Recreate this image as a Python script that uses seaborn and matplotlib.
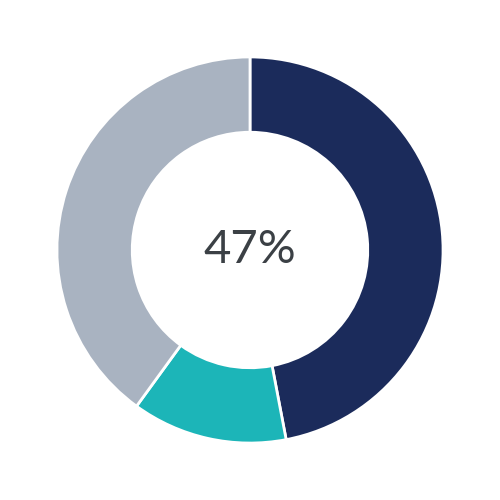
import matplotlib
matplotlib.use("Agg")
import matplotlib.pyplot as plt
import seaborn as sns

labels = ["Segment A", "Segment B", "Segment C"]
values = [47, 13, 40]
colors = ["#1b2b5b", "#1cb5b8", "#a9b3c1"]
center_label = "47%"

sns.set_theme(style="white")
plt.rcParams['font.family'] = ['Lato', 'DejaVu Sans']

fig = plt.figure(figsize=(5, 5), dpi=100)
ax = fig.add_axes([0, 0, 1, 1])
ax.pie(values, colors=colors, startangle=90, counterclock=False, radius=1,
       wedgeprops=dict(width=0.39, edgecolor="white", linewidth=2))
ax.text(0, 0.0, center_label, ha="center", va="center", fontsize=34,
        color="#3b4045", fontweight="normal")
lim = 1.295
ax.set_xlim(-lim, lim)
ax.set_ylim(-lim, lim)
ax.set_aspect("equal")
ax.axis("off")
fig.savefig("out.png", dpi=100, facecolor="white")
